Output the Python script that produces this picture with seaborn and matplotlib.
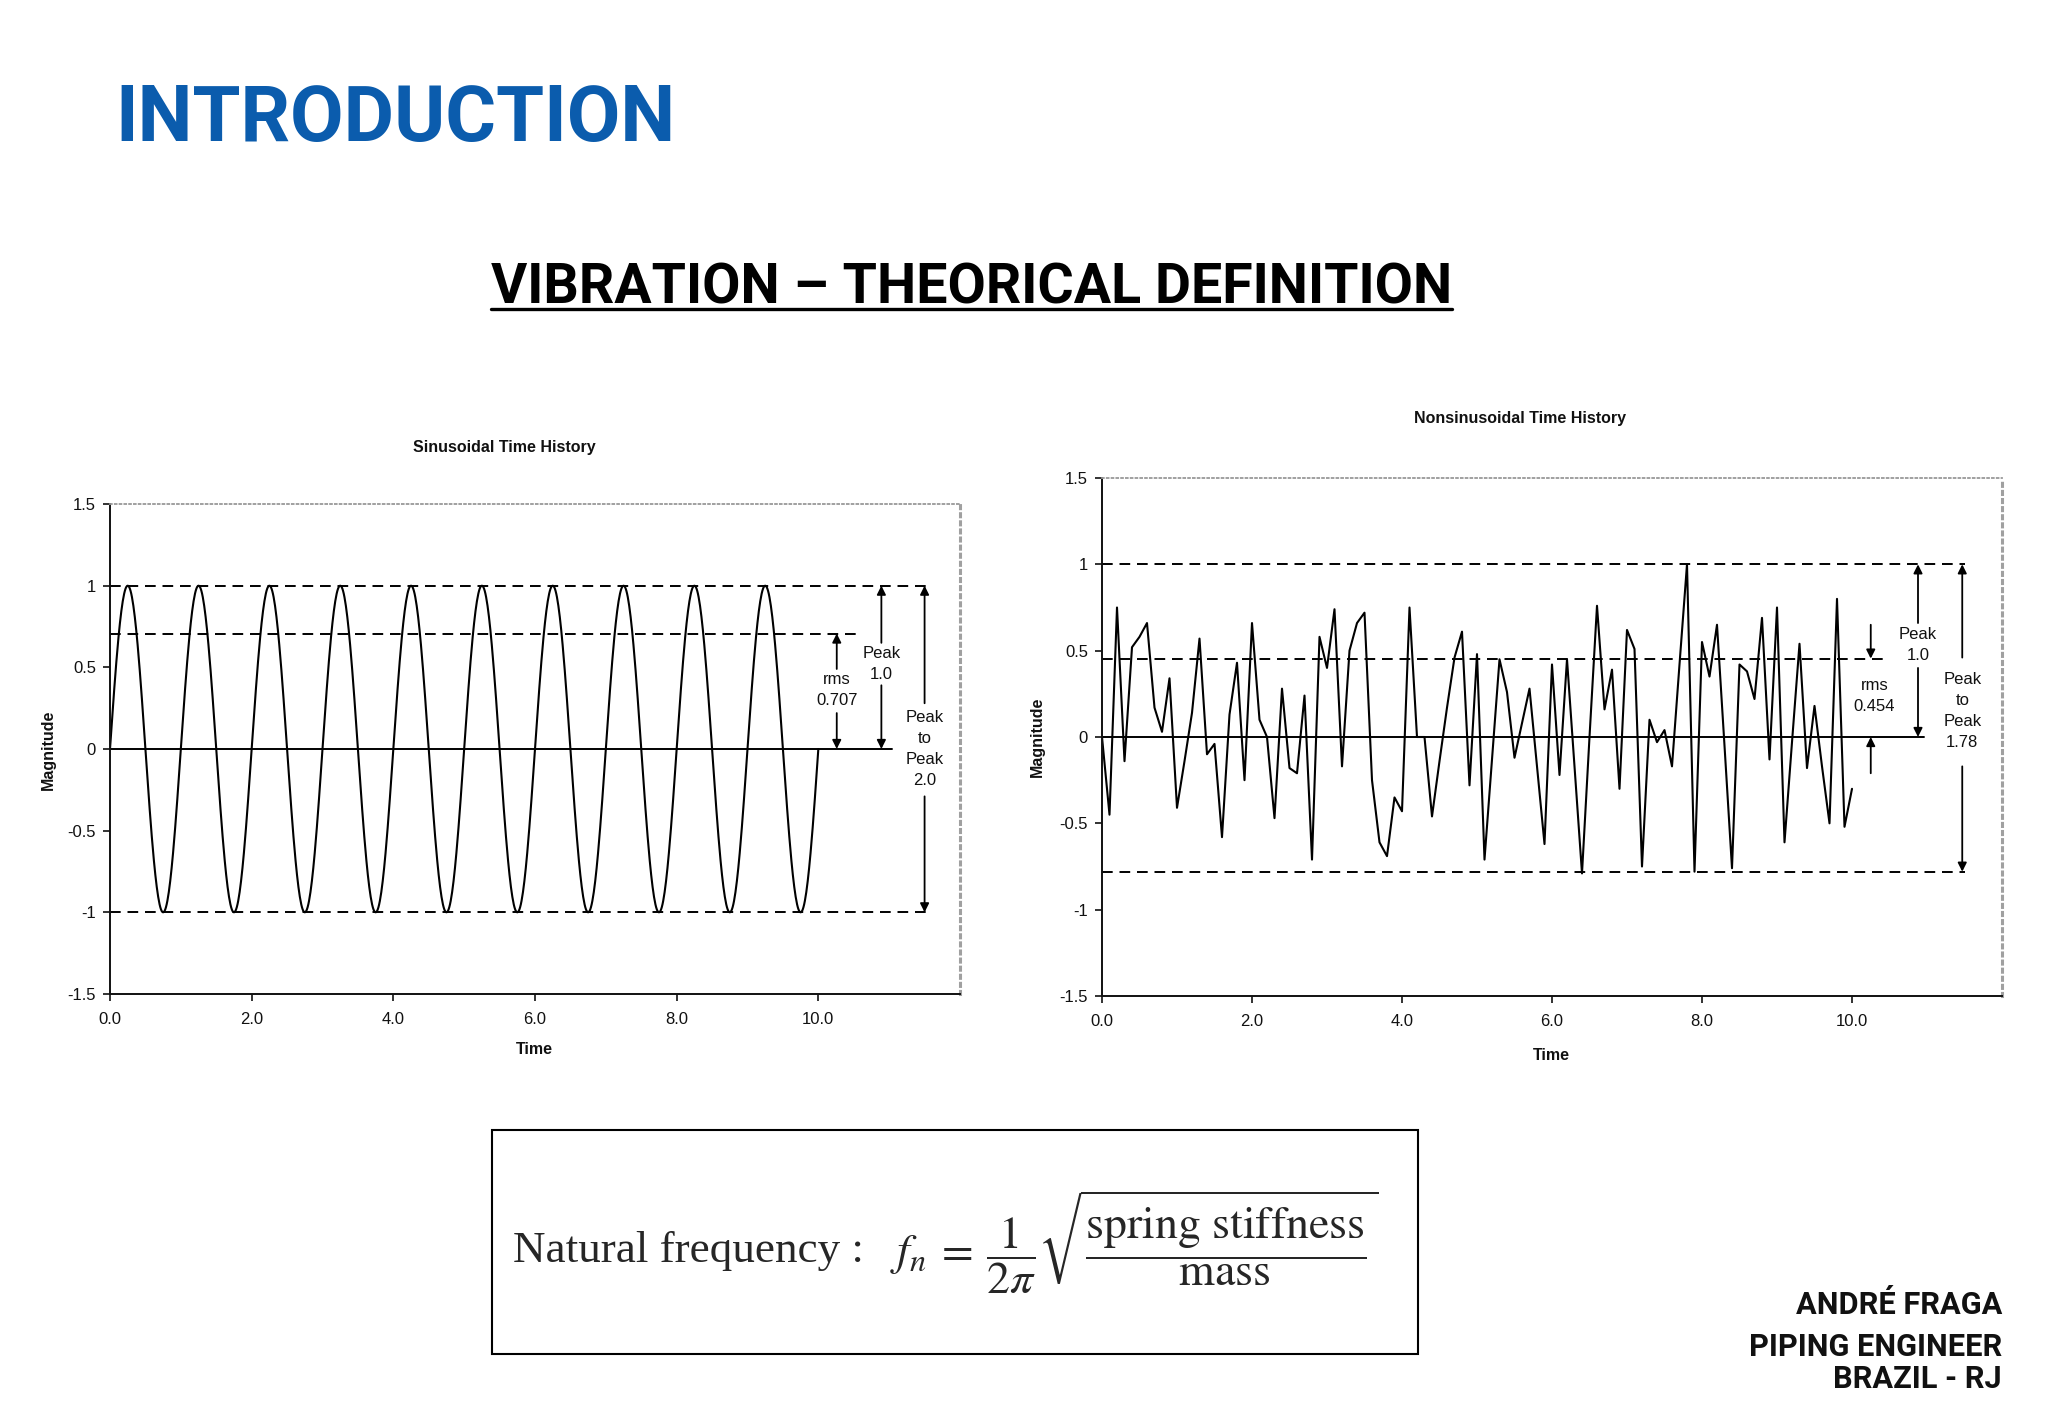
import numpy as np
import pandas as pd
import matplotlib.pyplot as plt
import seaborn as sns
from matplotlib.patches import Rectangle
from matplotlib.lines import Line2D

# --- data ---
# left chart: a pure sine, amplitude 1, period 1 s, 10 s long
sine_amplitude = 1.0
sine_period = 1.0
sine_duration = 10.0
sine_peak = 1.0
sine_rms = 0.707
sine_trough = -1.0

# right chart: one sample every 0.1 s from 0 to 10 s
nonsine_time = [round(i * 0.1, 1) for i in range(101)]
nonsine_values = [
    0.00, -0.45, 0.75, -0.14, 0.52, 0.58, 0.66, 0.17, 0.03, 0.34,
    -0.41, -0.14, 0.14, 0.57, -0.10, -0.04, -0.58, 0.13, 0.43, -0.25,
    0.66, 0.10, 0.00, -0.47, 0.28, -0.18, -0.21, 0.24, -0.71, 0.58,
    0.40, 0.74, -0.17, 0.50, 0.66, 0.72, -0.25, -0.61, -0.69, -0.35,
    -0.43, 0.75, 0.00, 0.00, -0.46, -0.14, 0.17, 0.46, 0.61, -0.28,
    0.48, -0.71, -0.13, 0.45, 0.26, -0.12, 0.08, 0.28, -0.17, -0.62,
    0.42, -0.22, 0.45, -0.17, -0.79, 0.00, 0.76, 0.16, 0.39, -0.30,
    0.62, 0.51, -0.75, 0.10, -0.03, 0.04, -0.17, 0.42, 1.00, -0.78,
    0.55, 0.35, 0.65, -0.05, -0.76, 0.42, 0.38, 0.22, 0.69, -0.13,
    0.75, -0.61, -0.03, 0.54, -0.18, 0.18, -0.17, -0.50, 0.80, -0.52,
    -0.30,
]
nonsine_peak = 1.0
nonsine_rms = 0.454
nonsine_trough = -0.78

x_ticks = [0, 2, 4, 6, 8, 10]
x_tick_labels = ['0.0', '2.0', '4.0', '6.0', '8.0', '10.0']
y_ticks = [-1.5, -1, -0.5, 0, 0.5, 1, 1.5]
y_tick_labels = ['-1.5', '-1', '-0.5', '0', '0.5', '1', '1.5']

sns.set_theme(style='ticks')
plt.rcParams['font.family'] = ['Liberation Sans', 'DejaVu Sans']
plt.rcParams['mathtext.fontset'] = 'stix'
HEAD = ['Roboto', 'Liberation Sans', 'DejaVu Sans']

W, H = 2048, 1418
fig = plt.figure(figsize=(W / 100, H / 100), dpi=100, facecolor='white')


def fx(px):
    return px / W


def fy(py):
    return 1 - py / H


ax1 = fig.add_axes([fx(110), fy(994), 850 / W, 490 / H])
ax2 = fig.add_axes([fx(1102), fy(996), 900 / W, 518 / H])

# sine curve
t_sine = np.linspace(0, sine_duration, 1001)
sine_df = pd.DataFrame({'Time': t_sine,
                        'Magnitude': sine_amplitude * np.sin(2 * np.pi * t_sine / sine_period)})
sns.lineplot(data=sine_df, x='Time', y='Magnitude', ax=ax1, color='black',
             lw=1.5, estimator=None, sort=False)

# non sinusoidal signal
nonsine_df = pd.DataFrame({'Time': nonsine_time, 'Magnitude': nonsine_values})
sns.lineplot(data=nonsine_df, x='Time', y='Magnitude', ax=ax2, color='black',
             lw=1.5, estimator=None, sort=False)

DASH = (0, (5.5, 3.5))


def ref_line(ax, y, x_end, dashed=True):
    ax.plot([0, x_end], [y, y], color='black', lw=1.4,
            ls=DASH if dashed else '-', zorder=1)


def arrow(ax, x, y_from, y_to):
    ax.annotate('', xy=(x, y_to), xytext=(x, y_from),
                arrowprops=dict(arrowstyle='-|>', color='black', lw=1.3,
                                mutation_scale=13, shrinkA=0, shrinkB=0))


def label(ax, x, y, s):
    ax.text(x, y, s, ha='center', va='center', fontsize=12, color='#111111',
            linespacing=1.5)


# left chart reference lines + annotations
ref_line(ax1, sine_peak, 11.52)
ref_line(ax1, sine_rms, 10.54)
ref_line(ax1, sine_trough, 11.52)
ref_line(ax1, 0, 11.04, dashed=False)

arrow(ax1, 10.26, 0.49, sine_rms)
arrow(ax1, 10.26, 0.22, 0)
label(ax1, 10.26, 0.36, 'rms\n%.3f' % sine_rms)

arrow(ax1, 10.89, 0.65, sine_peak)
arrow(ax1, 10.89, 0.39, 0)
label(ax1, 10.89, 0.52, 'Peak\n%.1f' % sine_peak)

arrow(ax1, 11.5, 0.28, sine_peak)
arrow(ax1, 11.5, -0.29, sine_trough)
label(ax1, 11.5, 0.0, 'Peak\nto\nPeak\n%.1f' % (sine_peak - sine_trough))

# right chart reference lines + annotations
ref_line(ax2, nonsine_peak, 11.51)
ref_line(ax2, nonsine_rms, 10.49)
ref_line(ax2, nonsine_trough, 11.51)
ref_line(ax2, 0, 10.96, dashed=False)

arrow(ax2, 10.25, 0.65, nonsine_rms)
arrow(ax2, 10.25, -0.21, 0)
label(ax2, 10.3, 0.24, 'rms\n%.3f' % nonsine_rms)

arrow(ax2, 10.88, 0.66, nonsine_peak)
arrow(ax2, 10.88, 0.40, 0)
label(ax2, 10.88, 0.53, 'Peak\n%.1f' % nonsine_peak)

arrow(ax2, 11.47, 0.46, nonsine_peak)
arrow(ax2, 11.47, -0.17, nonsine_trough)
label(ax2, 11.47, 0.15, 'Peak\nto\nPeak\n%.2f' % (nonsine_peak - nonsine_trough))

for ax in (ax1, ax2):
    ax.set_xlim(0, 12)
    ax.set_ylim(-1.5, 1.5)
    ax.set_xticks(x_ticks)
    ax.set_xticklabels(x_tick_labels)
    ax.set_yticks(y_ticks)
    ax.set_yticklabels(y_tick_labels)
    ax.set_xlabel('')
    ax.set_ylabel('')
    ax.tick_params(direction='out', length=5, width=1.2, labelsize=12,
                   colors='#111111')
    ax.tick_params(axis='x', pad=8)
    ax.tick_params(axis='y', pad=5)
    for side in ('left', 'bottom'):
        ax.spines[side].set(color='#111111', lw=1.4)
    for side in ('top', 'right'):
        ax.spines[side].set_visible(True)
        ax.spines[side].set(color='#999999', lw=1.3, linestyle=':')
    ax.spines['right'].set(lw=2.2, color='#a0a0a0')
    ax.set_facecolor('white')

# chart titles / labels
bold = dict(fontsize=11.5, fontweight='bold', color='#111111', ha='center', va='center')
fig.text(fx(504), fy(448), 'Sinusoidal Time History', **bold)
fig.text(fx(1520), fy(419), 'Nonsinusoidal Time History', **bold)
fig.text(fx(534), fy(1049), 'Time', **bold)
fig.text(fx(1551), fy(1055), 'Time', **bold)
fig.text(fx(48), fy(750), 'Magnitude', rotation=90, **bold)
fig.text(fx(1037), fy(737), 'Magnitude', rotation=90, **bold)

renderer = fig.canvas.get_renderer()


def fit_width(txt, target_px):
    # scale the font so the rendered text spans the same width as on the slide
    w = txt.get_window_extent(renderer).width
    txt.set_fontsize(txt.get_fontsize() * target_px / w)
    return txt


# slide headings
intro = fig.text(fx(115), fy(141), 'INTRODUCTION', fontsize=56, fontweight='bold',
                 color='#0b5cad', family=HEAD, ha='left', va='baseline')
fit_width(intro, 560)
sub = fig.text(fx(491), fy(303), 'VIBRATION \u2013 THEORICAL DEFINITION', fontsize=40,
               fontweight='bold', color='black', family=HEAD, ha='left', va='baseline')
fit_width(sub, 961)
bb = sub.get_window_extent(renderer)
fig.add_artist(Line2D([bb.x0 / W, bb.x1 / W], [fy(309), fy(309)], lw=2.4, color='black'))

# formula box
fig.add_artist(Rectangle((fx(492), fy(1354)), (1418 - 492) / W, (1354 - 1130) / H,
                         transform=fig.transFigure, fill=False, lw=1.5, ec='black'))
fig.text(fx(513), fy(1251), 'Natural frequency :', fontsize=32.5,
         family=['Liberation Serif', 'DejaVu Serif'], ha='left', va='center')
fig.text(fx(890), fy(1242),
         r'$f_n\:=\:\dfrac{1}{2\pi}\sqrt{\dfrac{\mathrm{spring\ stiffness}}{\mathrm{mass}}}$',
         fontsize=33, ha='left', va='center')

# footer
foot = []
for s, y in [('ANDR\u00c9 FRAGA', 1314), ('PIPING ENGINEER', 1356), ('BRAZIL - RJ', 1388)]:
    foot.append(fig.text(fx(2002), fy(y), s, fontsize=22, fontweight='bold', family=HEAD,
                         ha='right', va='baseline', color='#111111'))
scale = 252 / foot[1].get_window_extent(renderer).width
for t in foot:
    t.set_fontsize(t.get_fontsize() * scale)

fig.savefig('out.png', dpi=100, facecolor='white')
